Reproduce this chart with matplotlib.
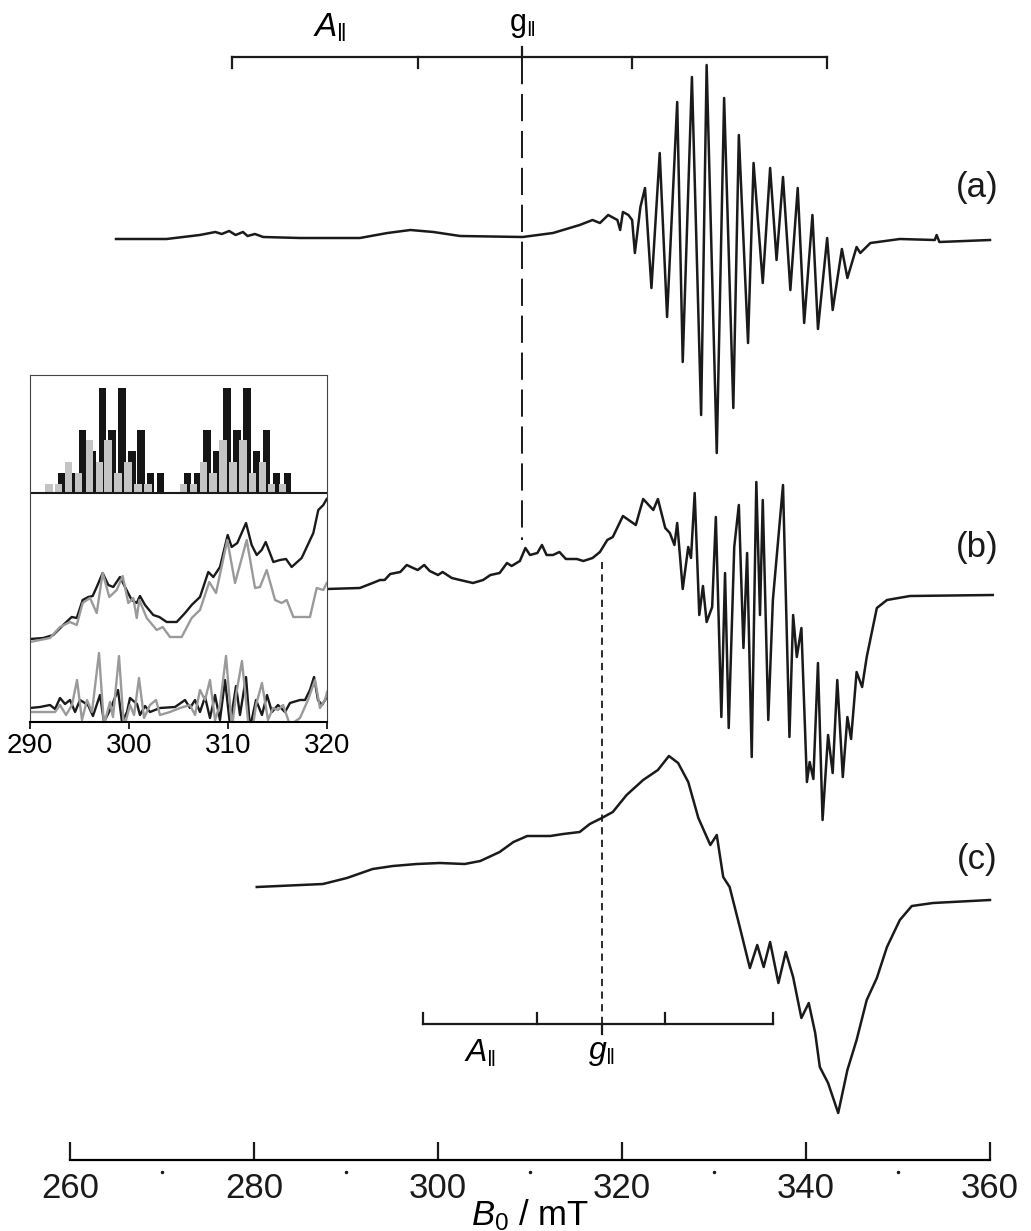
import numpy as np
import matplotlib.pyplot as plt

plt.rcParams['font.family'] = ['Liberation Sans', 'DejaVu Sans']
plt.rcParams['mathtext.fontset'] = 'custom'
plt.rcParams['mathtext.rm'] = 'Liberation Sans'
plt.rcParams['mathtext.it'] = 'Liberation Sans:italic'
plt.rcParams['lines.solid_joinstyle'] = 'round'

INK = '#1a1a1a'
GREY = '#9a9a9a'

# ---- main spectra: field (mT) / amplitude (a.u.) ----
a_field = [265.0, 270.5, 274.1, 275.8, 276.5, 277.3, 278.0, 278.8, 279.3, 280.1, 281.0, 285.0,
           291.5, 294.5, 297.0, 299.5, 302.4, 309.2, 312.5, 315.4, 316.8, 317.6, 318.5, 319.5,
           319.8, 320.1, 320.7, 321.1, 321.4, 322.0, 322.5, 323.2, 324.1, 324.9, 326.0, 326.6,
           327.6, 328.6, 329.2, 330.3, 331.1, 332.1, 332.7, 333.7, 334.3, 335.3, 336.1, 336.8,
           337.5, 338.3, 339.1, 339.8, 340.7, 341.3, 342.3, 342.9, 343.9, 344.5, 345.5, 345.9,
           347.0, 350.2, 354.0, 354.2, 354.5, 360.0]
a_amp = [1, 1, 5, 8, 6, 9, 5, 8, 4, 6, 3, 2,
         2, 7, 10, 8, 4, 3, 7, 15, 20, 17, 25, 20,
         10, 28, 25, 20, -13, 33, 52, -48, 87, -77, 138, -122,
         163, -175, 175, -213, 142, -168, 105, -103, 77, -43, 72, -20,
         63, -50, 52, -83, 25, -89, 2, -70, -9, -38, -7, -13,
         -3, 1, 0, 5, -2, 0]

b_field = [287.9, 291.5, 292.9, 293.7, 294.2, 294.8, 295.9, 296.6, 297.3, 297.8, 298.5, 299.1,
           300.0, 300.5, 301.5, 302.4, 303.8, 304.9, 305.7, 306.7, 307.5, 308.0, 308.9, 309.5,
           310.0, 310.8, 311.3, 311.8, 312.5, 313.2, 313.9, 315.1, 315.8, 316.8, 317.6, 318.4,
           319.0, 320.1, 321.5, 322.3, 323.4, 323.9, 324.7, 325.2, 325.7, 326.0, 326.6, 327.2,
           327.5, 327.9, 328.4, 328.8, 329.2, 329.8, 330.2, 330.8, 331.2, 331.6, 332.2, 332.7,
           333.2, 333.6, 334.1, 334.6, 335.0, 335.3, 335.9, 336.4, 337.5, 338.2, 338.6, 339.0,
           339.5, 340.1, 340.4, 340.8, 341.3, 341.8, 342.4, 342.9, 343.4, 344.0, 344.5, 344.9,
           345.5, 346.1, 346.6, 347.7, 348.8, 351.3, 360.3]
b_amp = [-1, 0, 5, 8, 8, 14, 16, 23, 20, 18, 23, 17,
         13, 16, 10, 8, 5, 8, 13, 15, 25, 22, 27, 40,
         33, 35, 43, 33, 33, 36, 29, 29, 27, 30, 36, 48,
         51, 72, 63, 89, 78, 89, 60, 55, 43, 65, -1, 41,
         30, 95, -27, 2, -34, -19, 71, -129, 15, -140, 41, 83,
         -60, 35, -169, 106, -27, 88, -132, -12, 103, -149, -27, -69,
         -40, -194, -174, -191, -75, -232, -147, -185, -92, -189, -129, -151,
         -84, -99, -69, -20, -12, -8, -7]

c_field = [280.3, 287.5, 290.1, 292.9, 295.1, 297.7, 300.2, 302.9, 304.6, 306.7, 308.2, 309.7,
           312.2, 313.6, 315.4, 316.5, 317.8, 319.0, 320.5, 322.3, 323.9, 325.1, 326.1, 327.2,
           328.3, 329.6, 330.3, 331.0, 331.7, 332.8, 333.9, 334.7, 335.4, 336.1, 337.0, 337.8,
           338.6, 339.5, 340.3, 341.0, 341.5, 342.4, 343.5, 344.5, 345.5, 346.6, 347.7, 348.8,
           350.2, 351.5, 353.8, 360.0]
c_amp = [0, 3, 9, 18, 21, 23, 24, 23, 26, 35, 45, 51,
         51, 53, 55, 63, 69, 75, 92, 107, 117, 131, 124, 105,
         69, 42, 52, 10, 0, -40, -81, -58, -80, -55, -96, -65,
         -90, -131, -116, -146, -180, -196, -226, -183, -153, -113, -91, -60,
         -33, -19, -16, -13]

# stick diagrams (mT)
top_sticks = [277.6, 297.8, 321.1, 342.3]
top_g = 309.1
bot_sticks = [298.4, 310.8, 324.7, 336.4]
bot_g = 317.8

main_ticks = [260, 280, 300, 320, 340, 360]
minor_ticks = [270, 290, 310, 330, 350]

# ---- inset: stick intensities and simulated/experimental spectra ----
blk_pos = [293.2, 294.2, 295.3, 296.3, 297.3, 298.3, 299.3, 300.3, 301.2, 302.2, 303.2,
           305.9, 306.9, 307.9, 308.9, 309.9, 310.9, 311.9, 312.9, 313.9, 314.9, 316.0]
blk_h = [20, 20, 63, 42, 105, 63, 105, 42, 63, 20, 20,
         20, 20, 63, 42, 105, 63, 105, 42, 63, 20, 20]
gry_pos = [291.9, 292.9, 293.9, 294.9, 296.0, 297.0, 297.9, 298.9, 299.9, 300.9, 301.9,
           305.5, 306.5, 307.5, 308.5, 309.5, 310.5, 311.5, 312.5, 313.5, 314.4, 315.5]
gry_h = [9, 9, 31, 20, 53, 31, 53, 20, 31, 9, 9,
         9, 9, 31, 20, 53, 31, 53, 20, 31, 9, 9]

ib_field = [290.0, 291.34, 292.35, 293.36, 294.21, 294.72, 295.32, 295.89, 296.33, 296.74, 297.34,
            297.91, 298.41, 299.09, 299.6, 300.27, 300.78, 301.11, 301.62, 302.45, 303.06, 303.81,
            304.82, 305.66, 306.33, 307.17, 308.01, 308.52, 309.19, 309.97, 310.37, 310.94, 311.82,
            312.39, 312.9, 313.4, 313.81, 314.58, 315.25, 315.86, 316.43, 317.44, 318.62, 319.12,
            319.63, 319.97]
ib_amp = [0, 1, 4, 14, 22, 21, 39, 42, 43, 52, 66,
          54, 52, 62, 52, 39, 36, 43, 34, 24, 22, 17,
          17, 26, 34, 42, 67, 62, 72, 104, 92, 96, 116,
          94, 84, 89, 97, 77, 79, 80, 72, 81, 106, 129,
          134, 140]
ig_field = [290.0, 292.02, 293.03, 294.04, 294.72, 295.32, 296.06, 296.74, 297.34, 298.01, 298.76,
            299.36, 299.93, 300.43, 300.78, 301.04, 301.79, 302.8, 303.4, 304.14, 305.32, 306.33,
            307.17, 308.11, 308.79, 309.93, 310.71, 311.89, 312.73, 313.23, 313.91, 314.75, 315.42,
            315.93, 316.6, 318.28, 318.96, 319.63, 319.97]
ig_amp = [-3, 1, 12, 17, 14, 36, 41, 26, 66, 42, 49,
          63, 36, 41, 21, 39, 21, 9, 12, 2, 2, 21,
          29, 57, 46, 99, 56, 99, 51, 52, 69, 39, 36,
          39, 22, 22, 51, 49, 56]

db_field = [290.0, 291.01, 292.02, 292.53, 293.03, 293.54, 294.04, 294.55, 295.05, 295.86, 296.36,
            297.07, 297.47, 298.08, 298.89, 299.29, 299.8, 300.1, 300.81, 301.11, 301.62, 302.12,
            303.13, 304.65, 305.66, 306.16, 306.67, 307.17, 307.68, 308.18, 308.69, 309.19, 309.7,
            310.2, 310.81, 311.21, 311.82, 312.22, 312.83, 313.43, 313.94, 314.44, 315.05, 315.76,
            316.26, 317.27, 317.78, 318.28, 318.69, 319.09, 319.49, 320.0]
db_amp = [2, 3, 5, 1, 12, 6, 10, -2, 10, 5, -6,
          15, -12, 0, 20, -12, -2, 12, 6, -5, 4, -2,
          2, 3, 10, 2, 10, -2, 13, -8, 15, -10, 30,
          -15, 24, -5, 33, -18, 10, -5, 15, -2, 5, -2,
          7, 10, 10, 20, 33, 10, 5, 13]
dg_field = [290.0, 291.52, 292.53, 293.03, 293.64, 294.24, 294.75, 295.25, 295.76, 296.26, 296.97,
            297.47, 298.08, 298.38, 298.99, 299.49, 300.1, 300.51, 301.01, 301.52, 302.12, 302.73,
            303.13, 304.14, 305.15, 306.16, 306.67, 307.17, 307.68, 308.18, 308.69, 309.19, 309.8,
            310.4, 310.81, 311.41, 312.02, 312.42, 312.83, 313.43, 314.04, 314.55, 315.05, 315.56,
            316.26, 317.27, 318.08, 318.79, 319.29, 319.8, 320.0]
dg_amp = [-2, -2, -2, 5, -5, 5, 30, -10, 10, -2, 57,
          -15, 8, -7, 54, -18, 5, -5, 32, -8, 5, 10,
          -5, -2, 2, 5, -5, 20, 10, 30, -10, 5, 54,
          -18, 15, 49, -10, -23, 5, 27, -10, 2, 0, 5,
          -15, -8, 10, 30, 2, 10, 18]

inset_ticks = [290, 300, 310, 320]

# ---------------------------------------------------------------------------
W, H = 1031, 1231
fig = plt.figure(figsize=(W / 100, H / 100), dpi=100)
ax = fig.add_axes([0, 0, 1, 1])
ax.set_xlim(260 - 70 / 9.2, 260 + 961 / 9.2)
ax.set_ylim(0, H)

lw = 1.8
ax.plot(a_field, np.array(a_amp) + 991, color=INK, lw=lw)
ax.plot(b_field, np.array(b_amp) + 643, color=INK, lw=lw)
ax.plot(c_field, np.array(c_amp) + 344, color=INK, lw=lw)

for lab, y in [('(a)', 1043), ('(b)', 683), ('(c)', 371)]:
    ax.text(977, y, lab, transform=None, fontsize=25, ha='center', va='center', color=INK)

# top stick diagram
ytop = 1174
ax.plot([top_sticks[0], top_sticks[-1]], [ytop, ytop], color=INK, lw=1.6)
for s in top_sticks:
    ax.plot([s, s], [ytop, ytop - 11], color=INK, lw=1.6)
ax.plot([top_g, top_g], [ytop, ytop + 10], color=INK, lw=1.6)
ax.plot([top_g, top_g], [ytop, 691], color=INK, lw=1.4, dashes=(14, 5))
ax.text(330, 1203, r'$A_{\Vert}$', transform=None, fontsize=24, ha='center', va='center')
ax.text(522, 1206, r'$\mathrm{g}_{\Vert}$', transform=None, fontsize=22, ha='center', va='center')

# bottom stick diagram
ybot = 207
ax.plot([bot_sticks[0], bot_sticks[-1]], [ybot, ybot], color=INK, lw=1.6)
for s in bot_sticks:
    ax.plot([s, s], [ybot, ybot + 11], color=INK, lw=1.6)
ax.plot([bot_g, bot_g], [ybot, ybot - 10], color=INK, lw=1.6)
ax.plot([bot_g, bot_g], [ybot, 669], color=INK, lw=1.3, dashes=(4, 3))
ax.text(480, 178, r'$A_{\Vert}$', transform=None, fontsize=23, ha='center', va='center')
ax.text(602, 178, r'$g_{\Vert}$', transform=None, fontsize=23, ha='center', va='center')

# field axis
for side in ['top', 'right', 'left']:
    ax.spines[side].set_visible(False)
ax.spines['bottom'].set_position(('data', 71))
ax.spines['bottom'].set_bounds(260, 360)
ax.spines['bottom'].set_linewidth(1.6)
ax.set_xticks(main_ticks)
ax.set_yticks([])
ax.tick_params(axis='x', direction='in', length=13, width=1.6, labelsize=25, pad=9, colors=INK)
ax.plot(minor_ticks, [59] * len(minor_ticks), ls='none', marker='o', ms=1.5, color=INK)
ax.text(530, 16, r'$B_0$ / mT', transform=None, fontsize=25, ha='center', va='center')

# inset
ins = fig.add_axes([30 / W, (H - 722) / H, 297 / W, 347 / H])
ins.set_xlim(290, 320)
ins.set_ylim(0, 347)
ins.bar(blk_pos, blk_h, width=0.75, bottom=229, color='#151515')
ins.bar(gry_pos, gry_h, width=0.75, bottom=229, color='#c4c4c4')
ins.axhline(229, color=INK, lw=1.5)
ins.plot(ib_field, np.array(ib_amp) + 83, color=INK, lw=1.7)
ins.plot(ig_field, np.array(ig_amp) + 83, color=GREY, lw=1.7)
ins.plot(db_field, np.array(db_amp) + 12, color=INK, lw=1.7)
ins.plot(dg_field, np.array(dg_amp) + 12, color=GREY, lw=1.7)
for side in ['top', 'left', 'right']:
    ins.spines[side].set_linewidth(0.8)
    ins.spines[side].set_color('#444444')
ins.spines['bottom'].set_linewidth(1.5)
ins.set_xticks(inset_ticks)
ins.set_yticks([])
ins.tick_params(axis='x', direction='out', length=5, width=1.2, labelsize=20, pad=3)

fig.savefig('out.png', dpi=100)
